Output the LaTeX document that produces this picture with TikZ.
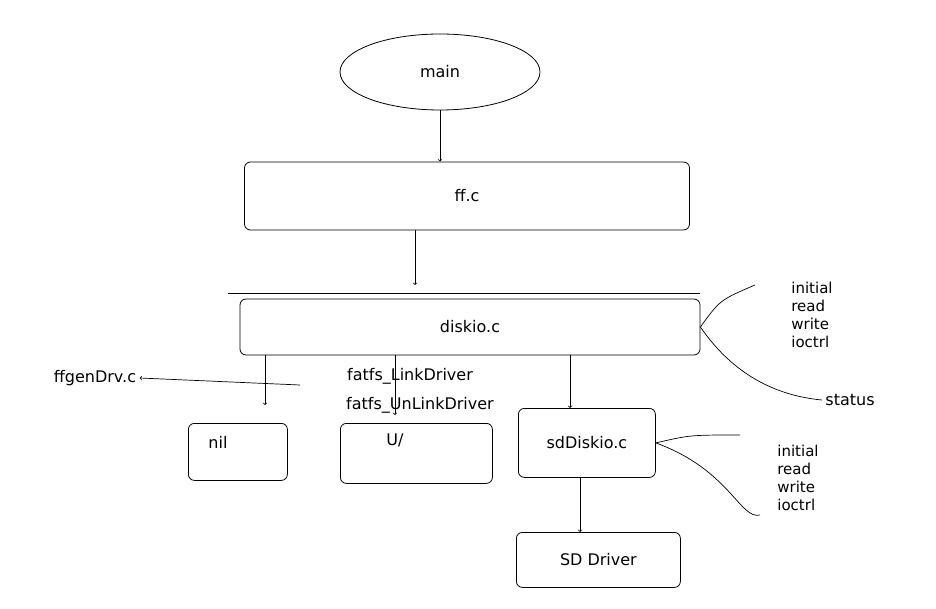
\documentclass[tikz,border=0pt]{standalone}
\usepackage{fontspec}
\setmainfont{DejaVu Sans}
\usetikzlibrary{shapes.geometric}
\begin{document}
\begin{tikzpicture}[x=1pt,y=-1pt,
  bx/.style={draw,rounded corners=6pt,line width=0.8pt,inner sep=0pt},
  ar/.style={->,line width=0.7pt},
  ln/.style={line width=0.7pt},
  lb/.style={font=\fontsize{16}{18}\selectfont,align=left}]
\useasboundingbox (0,0) rectangle (936,609);
\node[draw,ellipse,line width=0.8pt,minimum width=200,minimum height=76,lb] (main) at (440,72) {main};
\node[bx,minimum width=445,minimum height=68,lb] (ff) at (467,196) {ff.c};
\node[bx,minimum width=460,minimum height=56,lb] (disk) at (470,327) {diskio.c};
\coordinate (dtop1) at (228,293); \coordinate (dtop2) at (700,293);
\draw[ln] (dtop1) -- (dtop2);
\node[bx,minimum width=99,minimum height=57,lb,anchor=north west] (nil) at (188,423) {};
\node[lb] (niltxt) at (218,442) {nil};
\node[bx,minimum width=152,minimum height=60,lb,anchor=north west] (u) at (340,423) {};
\node[lb] (utxt) at (395,440) {U/};
\node[bx,minimum width=137,minimum height=69,lb,anchor=north west] (sd) at (518,408) {sdDiskio.c};
\node[bx,minimum width=164,minimum height=55,lb,anchor=north west] (sdd) at (516,532) {SD Driver};
\draw[ar] (main) -- (ff.north -| main);
\draw[ar] (ff.south -| 415,0) -- (415,285);
\draw[ar] (disk.south -| 265,0) -- (265,405);
\draw[ar] (disk.south -| 395,0) -- (395,415);
\draw[ar] (disk.south -| 570,0) -- (sd.north -| 570,0);
\draw[ar] (sd.south -| 580,0) -- (sdd.north -| 580,0);
\node[lb] (gen) at (95,378) {ffgenDrv.c};
\draw[ar] (300,385) -- (gen.east);
\node[lb] (link) at (410,376) {fatfs\_LinkDriver};
\node[lb] (unlink) at (420,405) {fatfs\_UnLinkDriver};
\node[lb,font=\fontsize{15}{18}\selectfont] (ops1) at (812,315) {initial\\read\\write\\ioctrl};
\node[lb] (status) at (850,400) {status};
\node[lb,font=\fontsize{15}{18}\selectfont] (ops2) at (798,478) {initial\\read\\write\\ioctrl};
\draw[ln] (disk.east) .. controls (720,300) .. (755,285);
\draw[ln] (disk.east) .. controls (730,370) and (770,395) .. (status.west);
\draw[ln] (sd.east) .. controls (690,435) .. (740,435);
\draw[ln] (sd.east) .. controls (730,470) and (740,520) .. (760,515);
\end{tikzpicture}
\end{document}
